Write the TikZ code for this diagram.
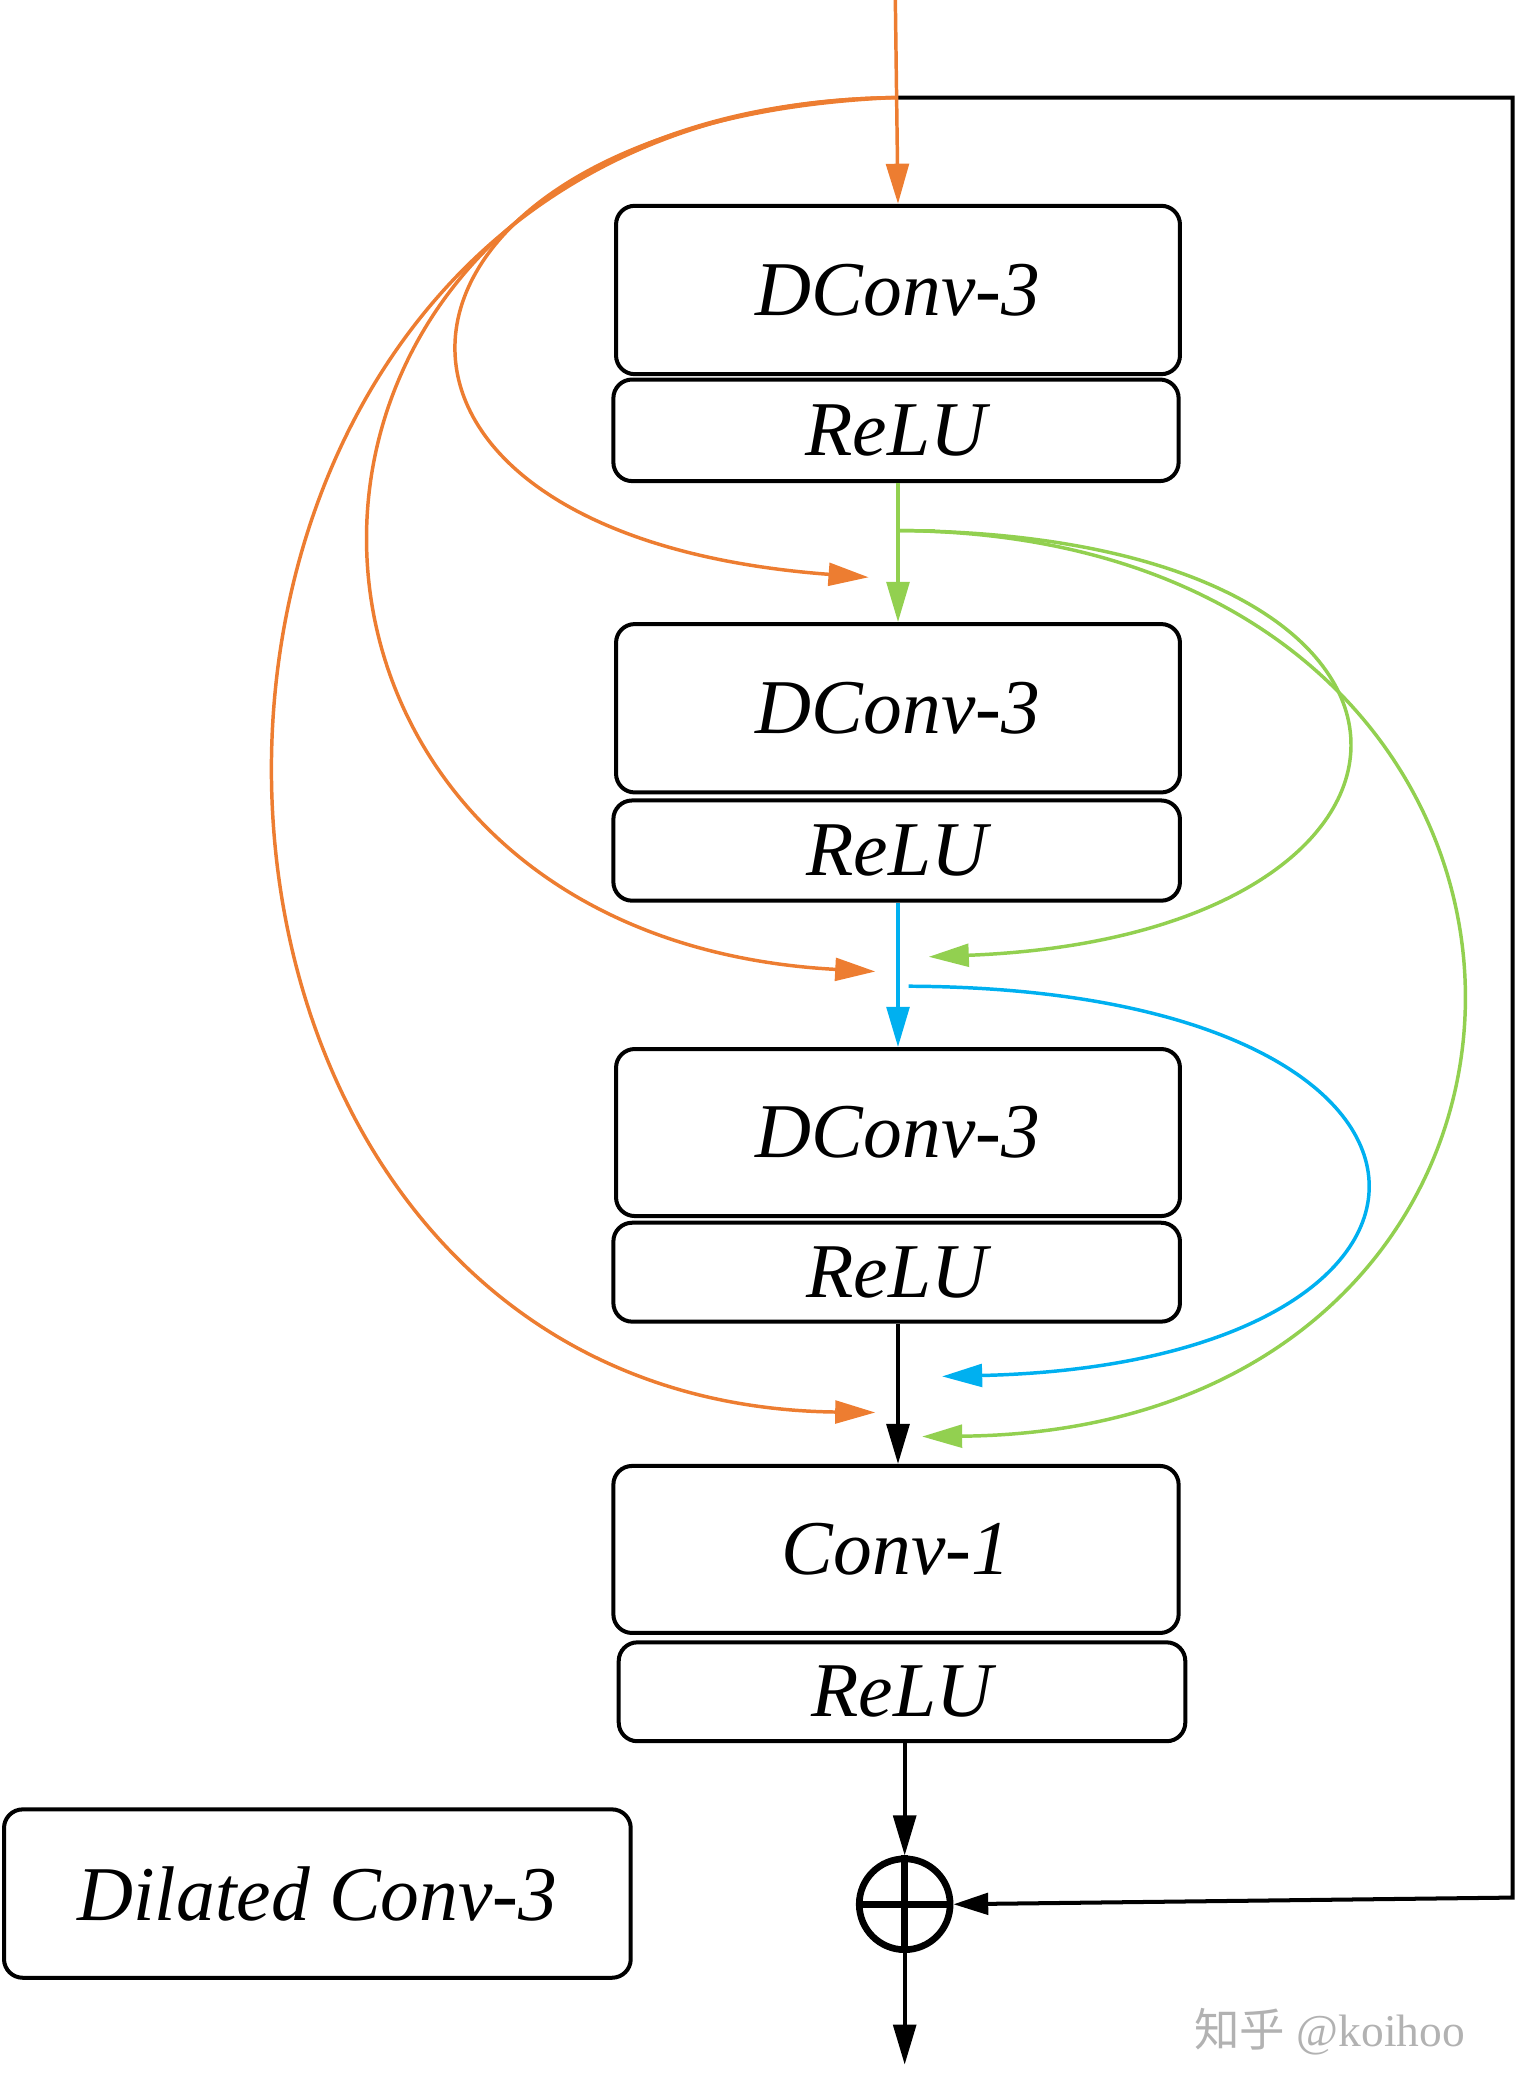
\documentclass[tikz,border=0pt]{standalone}
\usepackage{fontspec}
\setmainfont{Liberation Serif}
\newfontfamily\cjk{Noto Sans CJK SC}
\usetikzlibrary{arrows.meta}
\definecolor{org}{RGB}{237,125,49}
\definecolor{grn}{RGB}{146,208,80}
\definecolor{blu}{RGB}{0,176,240}
\begin{document}
\begin{tikzpicture}[x=1pt,y=-1pt,
 box/.style={draw,line width=3pt,rounded corners=14pt,inner sep=0pt,font=\fontsize{58}{60}\selectfont\itshape},
 tip/.style={-{Triangle[length=30pt,width=17pt]}},
 cv/.style={line width=2.6pt,tip}]
\useasboundingbox (0,0) rectangle (1135,1567);
\node[box,minimum width=422pt,minimum height=126pt] (d1) at (672,217) {DConv-3};
\node[box,minimum width=423pt,minimum height=76pt] (r1) at (670.5,322) {ReLU};
\node[box,minimum width=422pt,minimum height=126pt] (d2) at (672,530) {DConv-3};
\node[box,minimum width=424pt,minimum height=75pt] (r2) at (671,636.5) {ReLU};
\node[box,minimum width=422pt,minimum height=125pt] (d3) at (672,847.5) {DConv-3};
\node[box,minimum width=424pt,minimum height=74pt] (r3) at (671,952) {ReLU};
\node[box,minimum width=423pt,minimum height=125pt] (c1) at (670.5,1159.5) {Conv-1};
\node[box,minimum width=424pt,minimum height=74pt] (r4) at (675,1266) {ReLU};
\node[box,minimum width=469pt,minimum height=126pt] (leg) at (237.5,1417) {Dilated Conv-3};
\node[draw,circle,line width=5pt,minimum size=68pt,inner sep=0pt] (sum) at (677,1425) {};
\draw[line width=5pt] (sum.north)--(sum.south) (sum.west)--(sum.east);
\coordinate (in) at (670,0);
\coordinate (sp) at (670,73);
\coordinate (g) at (672,397);
\coordinate (b) at (680,738);
\coordinate (out) at (677,1545);
% skip
\draw[line width=3pt,-{Triangle[length=26pt,width=16pt]}] (sp) -- (1132,73) -- (1132,1420) -- (sum.east);
% main path
\draw[org,cv] (in) -- (d1.north);
\draw[grn,cv] (r1.south -| g) -- (d2.north -| g);
\draw[grn,line width=2.6pt] (g) -- (700,397);
\draw[blu,cv] (r2.south -| 672,0) -- (d3.north -| 672,0);
\draw[line width=3pt,tip] (r3.south -| 672,0) -- (c1.north -| 672,0);
\draw[line width=3pt,tip] (r4.south -| sum) -- (sum.north);
\draw[line width=3pt,tip] (sum.south) -- (out);
% orange curves
\draw[org,cv] (sp) .. controls (260,90) and (220,400) .. (650,432);
\draw[org,cv] (sp) .. controls (150,80) and (150,700) .. (655,727);
\draw[org,cv] (sp) .. controls (50,80) and (60,1050) .. (655,1057);
% green curves
\draw[grn,cv] (g) .. controls (1120,400) and (1110,700) .. (695,716);
\draw[grn,cv] (g) .. controls (1230,400) and (1230,1070) .. (690,1075);
% blue
\draw[blu,cv] (b) .. controls (1130,740) and (1130,1020) .. (705,1030);
\node[text=black!30,font=\fontsize{34}{36}\selectfont] (wm) at (995,1520) {{\cjk 知乎} @koihoo};
\end{tikzpicture}
\end{document}
